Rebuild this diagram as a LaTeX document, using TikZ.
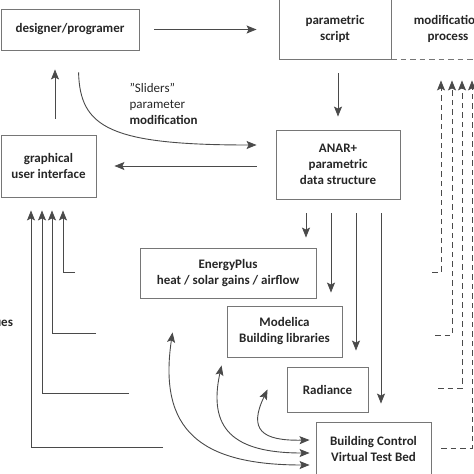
\documentclass[tikz,border=0pt]{standalone}
\usepackage{fontspec}
\setmainfont{Carlito}
\usetikzlibrary{arrows.meta}

\definecolor{linegray}{HTML}{4A4A4A}
\definecolor{boxgray}{HTML}{767676}
\definecolor{textgray}{HTML}{262626}

\tikzset{
  box/.style={draw=boxgray, line width=0.9pt, align=center, inner sep=0pt,
    font=\fontsize{13}{16}\selectfont\bfseries},
  link/.style={draw=linegray, line width=0.9pt},
  back/.style={link, dash pattern=on 5.5pt off 4pt},
}

\begin{document}
\begin{tikzpicture}[x=1pt, y=-1pt, >={Stealth[length=10pt,width=8pt,inset=2pt]},
  font=\fontsize{13}{16}\selectfont, text=textgray]
\useasboundingbox (0,0) rectangle (474,474);
\clip (0,0) rectangle (474,474);

\node[box, minimum width=138pt, minimum height=41pt](designer) at (70,29.5) {designer/programer};
\node[box, minimum width=112pt, minimum height=60pt](script) at (335,29) {parametric\\script};
\node[box, dash pattern=on 5.5pt off 4pt, minimum width=114pt, minimum height=60pt](process) at (448,29) {modification\\process};
\node[box, minimum width=95pt, minimum height=62pt](gui) at (48.5,166) {graphical\\user interface};
\node[box, minimum width=124pt, minimum height=69pt](anar) at (338,164.5) {ANAR+\\parametric\\data structure};
\node[box, minimum width=176pt, minimum height=50pt](eplus) at (228,273) {EnergyPlus\\heat / solar gains / airflow};
\node[box, minimum width=115pt, minimum height=51pt](modelica) at (284.5,331.5) {Modelica\\Building libraries};
\node[box, minimum width=81pt, minimum height=45pt](radiance) at (327.5,389.5) {Radiance};
\node[box, minimum width=115pt, minimum height=54pt](bcvtb) at (373.5,449) {Building Control\\Virtual Test Bed};

\node[anchor=west, align=left](sliders) at (126,104) {"Sliders"\\parameter\\\textbf{modification}};
\node[anchor=east, font=\fontsize{13}{16}\selectfont\bfseries](values) at (16.5,323) {ues};

\draw[link,->,shorten <=15pt,shorten >=22pt](designer.east)--(script.west |- designer.east);
\draw[link,->,shorten <=14pt,shorten >=13pt](anar.north |- script.south)--(anar.north);
\draw[link,->,shorten <=19pt,shorten >=18pt](anar.west |- gui.east)--(gui.east);
\draw[link,->,shorten <=16pt,shorten >=19pt]([xshift=6.5pt]gui.north)--([xshift=6.5pt]gui.north |- designer.south);
\draw[link,->,shorten <=22pt,shorten >=19pt]([xshift=8pt]designer.south) .. controls +(2,77) and +(-166,0) .. ([yshift=19.5pt]anar.west);

\foreach \x/\t/\g in {306/eplus/10pt, 331/modelica/13pt, 356/radiance/16pt, 381/bcvtb/18pt}
  \draw[link,->,shorten <=14pt,shorten >=\g](anar.south -| \x,0)--(\t.north -| \x,0);

\foreach \i/\x/\y/\e in {1/63/272/75, 2/52/333/96, 3/42/393/129, 4/31/447/163}{
  \coordinate(in\i) at (\e,\y);
  \draw[link,->,shorten >=13pt](in\i) -| (gui.south -| \x,0);
}
\foreach \i/\x/\y/\e in {1/441/272/432, 2/452/335/435, 3/462/388/438, 4/472/448/441}{
  \coordinate(out\i) at (\e,\y);
  \draw[back,->,shorten >=21pt](out\i) -| (process.south -| \x,0);
}

\draw[link,<->]([shift={(33pt,-34pt)}]eplus.south west) .. controls (158,430) and (200,465) .. ([shift={(-6pt,-16pt)}]bcvtb.west);
\draw[link,<->]([shift={(-5pt,-8pt)}]modelica.south west) .. controls (208,428) and (232,453) .. ([shift={(-6pt,-4pt)}]bcvtb.west);
\draw[link,<->]([xshift=-19pt]radiance.west) .. controls (248,430) and (262,441) .. ([shift={(-6pt,9pt)}]bcvtb.west);
\end{tikzpicture}
\end{document}
